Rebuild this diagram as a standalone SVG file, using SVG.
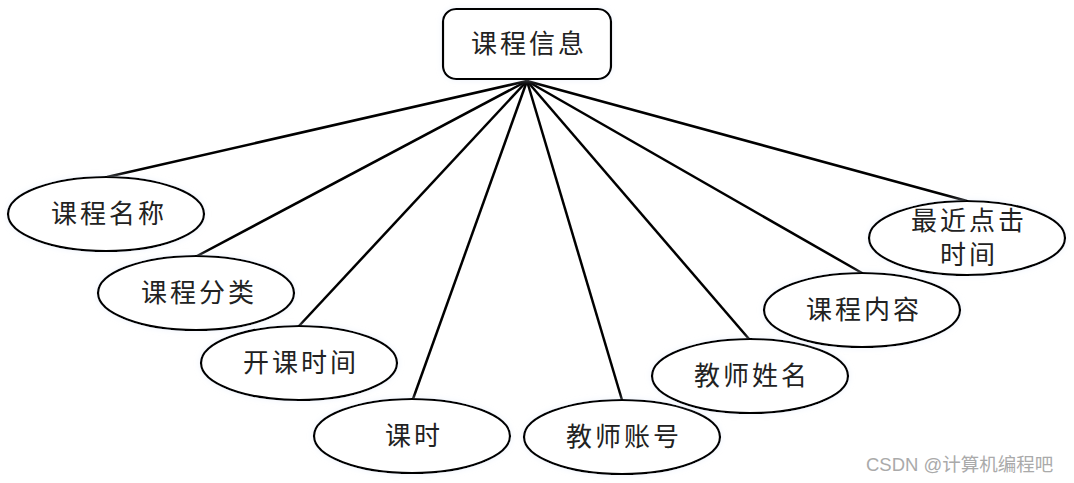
<svg xmlns="http://www.w3.org/2000/svg" width="1074" height="483" viewBox="0 0 1074 483">
<style>
.n{fill:#fff;stroke:#000;stroke-width:2.2}
.t{font-family:"Noto Sans CJK SC","Noto Sans",sans-serif;font-size:26px;letter-spacing:3px;fill:#222;text-anchor:middle}
.c line{stroke:#000;stroke-width:2.5}
.wm{font-family:"Liberation Sans","Noto Sans CJK SC",sans-serif;font-size:18.5px;fill:#aaa}
</style>
<defs>
<filter id="g" x="-20%" y="-20%" width="140%" height="140%">
<feGaussianBlur in="SourceAlpha" stdDeviation="3"/>
<feColorMatrix values="0 0 0 0 0.75 0 0 0 0 0.82 0 0 0 0 0.95 0 0 0 0.5 0"/>
<feMerge><feMergeNode/><feMergeNode in="SourceGraphic"/></feMerge>
</filter>
</defs>
<rect width="1074" height="483" fill="#fff"/>
<g class="c" id="connectors">
<line x1="527" y1="81" x2="107" y2="177"/>
<line x1="527" y1="81" x2="197" y2="256"/>
<line x1="527" y1="81" x2="299" y2="326"/>
<line x1="527" y1="81" x2="413" y2="399"/>
<line x1="527" y1="81" x2="622" y2="400"/>
<line x1="527" y1="81" x2="749" y2="339"/>
<line x1="527" y1="81" x2="862" y2="273"/>
<line x1="527" y1="81" x2="967" y2="201"/>
</g>
<g id="course_info"><rect class="n" filter="url(#g)" x="443" y="9" width="168" height="70" rx="13"/><text class="t" x="529" y="53">课程信息</text></g>
<g id="name"><ellipse class="n" filter="url(#g)" cx="106" cy="214" rx="98" ry="37"/><text class="t" x="109" y="223">课程名称</text></g>
<g id="category"><ellipse class="n" filter="url(#g)" cx="196" cy="293" rx="98" ry="37"/><text class="t" x="199" y="302">课程分类</text></g>
<g id="start_time"><ellipse class="n" filter="url(#g)" cx="299" cy="363" rx="98" ry="37"/><text class="t" x="301" y="372">开课时间</text></g>
<g id="hours"><ellipse class="n" filter="url(#g)" cx="412" cy="436" rx="98" ry="37"/><text class="t" x="414" y="445">课时</text></g>
<g id="teacher_account"><ellipse class="n" filter="url(#g)" cx="622" cy="437" rx="98" ry="37"/><text class="t" x="624" y="446">教师账号</text></g>
<g id="teacher_name"><ellipse class="n" filter="url(#g)" cx="750" cy="376" rx="98" ry="37"/><text class="t" x="752" y="385">教师姓名</text></g>
<g id="content"><ellipse class="n" filter="url(#g)" cx="862" cy="310" rx="98" ry="37"/><text class="t" x="864" y="319">课程内容</text></g>
<g id="last_click"><ellipse class="n" filter="url(#g)" cx="967" cy="238" rx="98" ry="37"/><text class="t" x="969" y="230">最近点击</text><text class="t" x="969" y="264">时间</text></g>
<text class="wm" x="866" y="471">CSDN @计算机编程吧</text>
</svg>
